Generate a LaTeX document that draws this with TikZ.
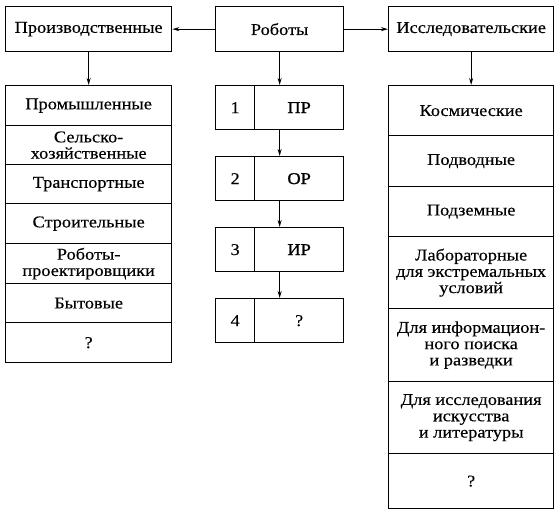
\documentclass[tikz,border=0pt]{standalone}
\usepackage{fontspec}
\setmainfont[FakeStretch=1.11,FakeBold=0.3]{Liberation Serif}
\newfontfamily\semib[FakeStretch=1.11,FakeBold=1.2]{Liberation Serif}
\usetikzlibrary{arrows.meta}
\tikzset{
  cell/.style={draw, line width=1.3pt, inner sep=0pt, anchor=north west, align=center,
    font=\fontsize{16.5}{16.3}\selectfont},
  conn/.style={line width=1.2pt, -{Stealth[length=7pt,width=4pt]}},
}
\begin{document}
\begin{tikzpicture}[x=1pt,y=-1pt]
\useasboundingbox (0,0) rectangle (555,514);
% top row
\node[cell, minimum width=166pt, minimum height=45pt] (prod) at (5,6) {Производственные};
\node[cell, minimum width=128pt, minimum height=45pt] (rob) at (215,6) {Роботы};
\node[cell, minimum width=165pt, minimum height=45pt] (res) at (388,6) {Исследовательские};
% left list
\node[cell, minimum width=166pt, minimum height=40pt] (l1) at (5,85) {Промышленные};
\node[cell, minimum width=166pt, minimum height=39pt] (l2) at (5,125) {Сельско-\\хозяйственные};
\node[cell, minimum width=166pt, minimum height=39pt] (l3) at (5,164) {Транспортные};
\node[cell, minimum width=166pt, minimum height=40pt] (l4) at (5,203) {Строительные};
\node[cell, minimum width=166pt, minimum height=40pt] (l5) at (5,243) {Роботы-\\проектировщики};
\node[cell, minimum width=166pt, minimum height=39pt] (l6) at (5,283) {Бытовые};
\node[cell, minimum width=166pt, minimum height=40pt] (l7) at (5,322) {?};
% middle
\node[cell, minimum width=39pt, minimum height=44pt] (n1) at (215,85) {1};
\node[cell, minimum width=89pt, minimum height=44pt] (p1) at (254,85) {\semib ПР};
\node[cell, minimum width=39pt, minimum height=44pt] (n2) at (215,156) {2};
\node[cell, minimum width=89pt, minimum height=44pt] (p2) at (254,156) {\semib ОР};
\node[cell, minimum width=39pt, minimum height=44pt] (n3) at (215,227) {3};
\node[cell, minimum width=89pt, minimum height=44pt] (p3) at (254,227) {\semib ИР};
\node[cell, minimum width=39pt, minimum height=44pt] (n4) at (215,298) {4};
\node[cell, minimum width=89pt, minimum height=44pt] (p4) at (254,298) {?};
% right list
\node[cell, minimum width=165pt, minimum height=50pt] (r1) at (388,85) {Космические};
\node[cell, minimum width=165pt, minimum height=51pt] (r2) at (388,135) {Подводные};
\node[cell, minimum width=165pt, minimum height=50pt] (r3) at (388,186) {Подземные};
\node[cell, minimum width=165pt, minimum height=72pt] (r4) at (388,236) {Лабораторные\\для экстремальных\\условий};
\node[cell, minimum width=165pt, minimum height=73pt] (r5) at (388,308) {Для информацион-\\ного поиска\\и разведки};
\node[cell, minimum width=165pt, minimum height=72pt] (r6) at (388,381) {Для исследования\\искусства\\и литературы};
\node[cell, minimum width=165pt, minimum height=55pt] (r7) at (388,453) {?};
% connectors
\draw[conn] (rob.west) -- (prod.east);
\draw[conn] (rob.east) -- (res.west);
\draw[conn] (prod.south) -- (l1.north);
\draw[conn] (res.south) -- (r1.north);
\draw[conn] (rob.south) -- (rob.south |- p1.north);
\draw[conn] (rob.south |- p1.south) -- (rob.south |- p2.north);
\draw[conn] (rob.south |- p2.south) -- (rob.south |- p3.north);
\draw[conn] (rob.south |- p3.south) -- (rob.south |- p4.north);
\end{tikzpicture}
\end{document}
